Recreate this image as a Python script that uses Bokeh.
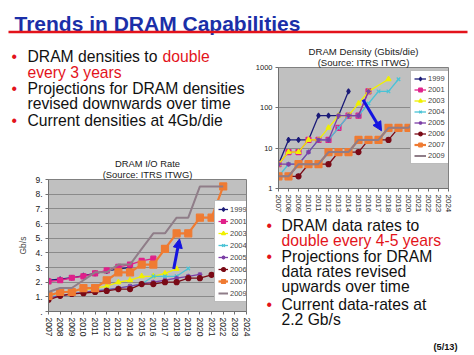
from bokeh.plotting import figure
from bokeh.layouts import column, row
from bokeh.models import Range1d, FixedTicker, Legend, LegendItem, Title, Arrow, NormalHead
from bokeh.core.properties import value
from bokeh.embed import file_html
from bokeh.resources import INLINE

FONT = "Liberation Sans"

# ---------------- data ----------------
slide_title = "Trends in DRAM Capabilities"
year_ticks = list(range(2007, 2025))
series_names = ["1999", "2001", "2003", "2004", "2005", "2006", "2007", "2009"]

# DRAM density (Gbits/die)
dens_x_1999 = list(range(2007, 2015))
dens_1999 = [4, 16, 16, 16, 64, 64, 64, 256]
dens_x_2001 = list(range(2007, 2017))
dens_2001 = [4, 8, 8, 16, 16, 16, 32, 64, 64, 256]
dens_x_2003 = list(range(2007, 2017)) + [2018]
dens_2003 = [4, 8, 8, 16, 16, 32, 64, 64, 128, 256, 512]
dens_x_2004 = list(range(2007, 2020))
dens_2004 = [2, 4, 4, 8, 16, 16, 32, 64, 64, 128, 256, 256, 512]
dens_x_2005 = list(range(2007, 2017))
dens_2005 = [4, 4, 4, 8, 16, 16, 64, 64, 64, 256]
dens_x_2006 = list(range(2007, 2022))
dens_2006 = [2, 2, 2, 4, 4, 4, 8, 8, 8, 16, 16, 16, 32, 32, 32]
dens_x_2007 = list(range(2007, 2021))
dens_2007 = [2, 2, 4, 4, 4, 8, 8, 8, 16, 16, 16, 32, 32, 32]
dens_x_2009 = list(range(2007, 2023))
dens_2009 = [2, 2, 4, 4, 4, 8, 8, 8, 16, 16, 16, 32, 32, 32, 64, 64]
dens_arrow = [2015.45, 159, 2017.3, 27]

# DRAM I/O rate (Gb/s)
io_x_1999 = list(range(2007, 2015))
io_1999 = [2.13, 2.2, 2.3, 2.45, 2.6, 2.75, 2.9, 3.0]
io_x_2001 = list(range(2007, 2017))
io_2001 = [2.05, 2.13, 2.3, 2.4, 2.6, 2.8, 3.05, 3.2, 3.45, 3.6]
io_x_2003 = list(range(2007, 2019))
io_2003 = [1.1, 1.3, 1.4, 1.5, 1.6, 1.73, 2.0, 2.13, 2.4, 2.4, 2.6, 2.9]
io_x_2004 = list(range(2007, 2020))
io_2004 = [1.0, 1.1, 1.2, 1.3, 1.4, 1.5, 1.6, 1.73, 1.87, 2.4, 2.4, 2.4, 2.93]
io_x_2005 = list(range(2007, 2021))
io_2005 = [0.93, 1.07, 1.2, 1.3, 1.4, 1.47, 1.6, 1.73, 1.87, 2.0, 2.13, 2.27, 2.4, 2.53]
io_x_2006 = list(range(2007, 2022))
io_2006 = [0.8, 1.07, 1.2, 1.25, 1.33, 1.4, 1.53, 1.53, 1.87, 1.87, 2.0, 2.0, 2.27, 2.27, 2.5]
io_x_2007 = list(range(2007, 2023))
io_2007 = [1.07, 1.33, 1.33, 1.6, 1.6, 2.13, 2.67, 2.67, 3.2, 3.2, 4.27, 5.33, 5.33, 6.4, 6.4, 8.53]
io_x_2009 = list(range(2007, 2023))
io_2009 = [1.33, 1.6, 1.6, 2.13, 2.67, 2.67, 3.2, 3.2, 4.27, 5.33, 5.33, 6.4, 6.4, 8.53, 8.53, 8.53]
io_arrow = [2017.75, 2.9, 2018.25, 4.95]

io_ticks = list(range(0, 10))
io_tick_labels = [".", "1.", "2.", "3.", "4.", "5.", "6.", "7.", "8.", "9."]
dens_ticks = [1, 10, 100, 1000]
dens_tick_labels = ["1", "10", "100", "1000"]

left_lines = ["DRAM densities to", "every 3 years", "Projections for DRAM densities",
              "revised downwards over time", "Current densities at 4Gb/die"]
left_red_word = "double"
right_lines = ["DRAM data rates to", "double every 4-5 years", "Projections for DRAM",
               "data rates revised", "upwards over time", "Current data-rates at", "2.2 Gb/s"]
page_label = "(5/13)"

# ---------------- styles ----------------
colors = {"1999": "#1b1b78", "2001": "#e0208a", "2003": "#f0f000", "2004": "#4ac3d6",
          "2005": "#7c3fa6", "2006": "#7a0a16", "2007": "#ef7b32", "2009": "#8f7d88"}
markers = {"1999": "diamond", "2001": "square", "2003": "triangle", "2004": "x",
           "2005": "asterisk", "2006": "circle", "2007": "square", "2009": None}
RED = "#e3131b"
INK = "#111111"
BLUE_T = "#1b2fa8"
GRID = "#8a8a8a"
PLOT_BG = "#c0c0c0"
BODY = "15.7px"


def text_panel(w, h):
    p = figure(width=w, height=h, x_range=Range1d(0, w), y_range=Range1d(h, 0),
               output_backend="svg", toolbar_location=None, min_border=0,
               x_axis_location=None, y_axis_location=None)
    p.grid.visible = False
    p.outline_line_color = None
    p.background_fill_color = "white"
    p.border_fill_color = "white"
    return p


def put(p, xs, ys, texts, size=BODY, color=INK, style="normal"):
    p.text(x=xs, y=ys, text=texts, text_font=value(FONT), text_font_size=size, text_color=color,
           text_font_style=style, text_baseline="alphabetic", text_align="left")


def draw_series(p, xs, ys, name, msize):
    c = colors[name]
    big = name == "2007"
    lw = 2.2 if big else (2.0 if name == "2009" else 1.3)
    rs = [p.line(xs, ys, line_color=c, line_width=lw)]
    m = markers[name]
    if m is not None:
        rs.append(p.scatter(xs, ys, marker=m, size=(msize + 2 if big else msize),
                            fill_color=c, line_color=c, line_width=1.2))
    return LegendItem(label=name, renderers=rs)


def style_chart(p, fs_y, fs_x):
    p.background_fill_color = PLOT_BG
    p.border_fill_color = "white"
    p.outline_line_color = "#808080"
    p.xgrid.visible = False
    p.ygrid.grid_line_color = GRID
    p.ygrid.grid_line_width = 1
    for ax in p.axis:
        ax.major_label_text_font = FONT
        ax.major_label_text_color = "#1a1a1a"
        ax.axis_line_color = "#707070"
        ax.major_tick_line_color = "#707070"
        ax.major_tick_out = 3
        ax.major_tick_in = 0
        ax.minor_tick_line_color = None
        ax.major_label_standoff = 3
    p.yaxis.major_label_text_font_size = fs_y
    p.xaxis.major_label_text_font_size = fs_x
    p.xaxis.ticker = FixedTicker(ticks=year_ticks)
    p.xaxis.major_label_orientation = "vertical"


def style_legend(lg, gw, gh, lh):
    lg.border_line_color = "#777777"
    lg.border_line_width = 1
    lg.background_fill_color = "white"
    lg.background_fill_alpha = 1
    lg.padding = 3
    lg.spacing = 2
    lg.margin = 0
    lg.label_standoff = 2
    lg.glyph_width = gw
    lg.glyph_height = gh
    lg.label_height = lh
    lg.label_width = 14
    lg.label_text_font = FONT
    lg.label_text_font_size = "7.5px"


def add_titles(p, lines, fs):
    # first added sits next to the frame; the outer line is pulled down a little
    for t, so in zip(reversed(lines), (0, -4)):
        p.add_layout(Title(text=t, align="center", text_font=FONT, text_font_size=fs,
                           text_font_style="normal", text_color="#1a1a1a", standoff=so), "above")


# ---------------- title bar ----------------
title_fig = text_panel(474, 40)
put(title_fig, [14], [23], [slide_title], size="21px", color=BLUE_T, style="bold")
title_fig.segment(x0=[8], y0=[31.5], x1=[467], y1=[31.5], line_color=RED, line_width=2.5)

# ---------------- left text ----------------
text1 = text_panel(252, 100)
left_base = [16, 31.5, 47.5, 63, 79.5]
left_colors = [INK, RED, INK, INK, INK]
put(text1, [27] * 5, left_base, left_lines, color=left_colors)
put(text1, [162], [left_base[0]], [left_red_word], color=RED)
put(text1, [11] * 3, [left_base[0], left_base[2], left_base[4]], ["\u2022"] * 3, color=RED)

# ---------------- right text ----------------
text2 = text_panel(222, 140)
right_base = [9.5, 24.6, 40.8, 56.1, 71.4, 89.2, 104.4]
right_colors = [INK, RED, INK, INK, INK, INK, INK]
put(text2, [29] * 7, right_base, right_lines, color=right_colors)
put(text2, [14] * 3, [right_base[0], right_base[2], right_base[5]], ["\u2022"] * 3, color=RED)
put(text2, [181], [131], [page_label], size="9.2px", style="bold")

# ---------------- density chart ----------------
dens = figure(width=222, height=175, x_range=Range1d(2007, 2024), y_range=Range1d(1, 1000),
              y_axis_type="log", output_backend="svg", toolbar_location=None,
              min_border_left=25, min_border_right=26, min_border_top=27, min_border_bottom=24)
style_chart(dens, "7.5px", "8px")
dens.yaxis.ticker = FixedTicker(ticks=dens_ticks)
dens.ygrid.ticker = FixedTicker(ticks=dens_ticks)
dens.yaxis.major_label_overrides = dict(zip(dens_ticks, dens_tick_labels))
add_titles(dens, ["DRAM Density (Gbits/die)", "(Source: ITRS ITWG)"], "9.6px")

dens_series = [(dens_x_1999, dens_1999), (dens_x_2001, dens_2001), (dens_x_2003, dens_2003),
               (dens_x_2004, dens_2004), (dens_x_2005, dens_2005), (dens_x_2006, dens_2006),
               (dens_x_2007, dens_2007), (dens_x_2009, dens_2009)]
dens_items = [draw_series(dens, xs, ys, n, 5) for (xs, ys), n in zip(dens_series, series_names)]
dens.add_layout(Arrow(end=NormalHead(size=9, fill_color="#1414e0", line_color="#1414e0"),
                      x_start=dens_arrow[0], y_start=dens_arrow[1], x_end=dens_arrow[2], y_end=dens_arrow[3],
                      line_color="#1414e0", line_width=3))
dlg = Legend(items=dens_items, location=(132, 24))
style_legend(dlg, 12, 9, 9)
dens.add_layout(dlg, "center")

# ---------------- I/O rate chart ----------------
io = figure(width=252, height=215, x_range=Range1d(2007, 2024), y_range=Range1d(0, 9),
            output_backend="svg", toolbar_location=None,
            min_border_left=48, min_border_right=6, min_border_top=39, min_border_bottom=44)
style_chart(io, "8.5px", "8.5px")
io.yaxis.ticker = FixedTicker(ticks=io_ticks)
io.ygrid.ticker = FixedTicker(ticks=io_ticks)
io.yaxis.major_label_overrides = dict(zip(io_ticks, io_tick_labels))
io.yaxis.axis_label = "Gb/s"
io.yaxis.axis_label_text_font = FONT
io.yaxis.axis_label_text_font_size = "8.5px"
io.yaxis.axis_label_text_font_style = "normal"
io.yaxis.axis_label_standoff = 4
add_titles(io, ["DRAM I/O Rate", "(Source: ITRS ITWG)"], "9.4px")

io_series = [(io_x_1999, io_1999), (io_x_2001, io_2001), (io_x_2003, io_2003), (io_x_2004, io_2004),
             (io_x_2005, io_2005), (io_x_2006, io_2006), (io_x_2007, io_2007), (io_x_2009, io_2009)]
io_items = [draw_series(io, xs, ys, n, 5) for (xs, ys), n in zip(io_series, series_names)]
io.add_layout(Arrow(end=NormalHead(size=9, fill_color="#1414e0", line_color="#1414e0"),
                    x_start=io_arrow[0], y_start=io_arrow[1], x_end=io_arrow[2], y_end=io_arrow[3],
                    line_color="#1414e0", line_width=3))
ilg = Legend(items=io_items, location=(166, 9))
style_legend(ilg, 10, 10, 10)
io.add_layout(ilg, "center")

# text panels are wrapped in their own rows so their frames are not aligned with the charts' frames
layout = column(row(title_fig),
                row(column(row(text1), io), column(dens, row(text2))))

with open("out.html", "w") as f:
    f.write(file_html(layout, INLINE))
